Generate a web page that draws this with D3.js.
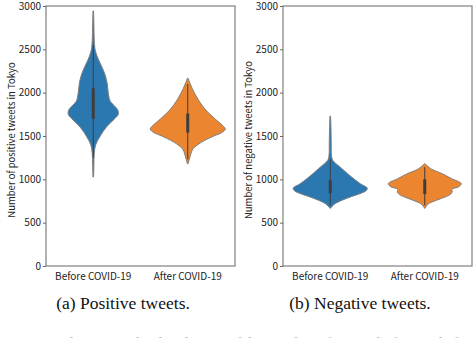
<!DOCTYPE html>
<html>
<head>
<meta charset="utf-8">
<script src="https://cdn.jsdelivr.net/npm/d3@7"></script>
<style>
  body { margin: 0; background: #fff; }
  svg { display: block; }
</style>
</head>
<body>
<svg id="chart"></svg>
<script>
// categories and tick values
const groups = ["Before COVID-19", "After COVID-19"];
const yTicks = [0, 500, 1000, 1500, 2000, 2500, 3000];
const colors = ["#2b78b1", "#ec8530"];

// density profiles: [tweets, relative density]
const posBefore = [[2943, 0.3], [2800, 0.6], [2600, 1], [2500, 1.8], [2450, 3], [2400, 4.5],
  [2300, 8.5], [2200, 12], [2100, 14], [2000, 15], [1900, 17], [1850, 21], [1800, 24.5],
  [1750, 25], [1700, 21.5], [1650, 17], [1600, 13], [1500, 7], [1400, 2.5], [1300, 1],
  [1150, 0.6], [1027, 0.3]];
const posAfter = [[2167, 0.3], [2100, 2.5], [2000, 6.5], [1900, 11.5], [1800, 18], [1700, 27],
  [1620, 35], [1580, 37.5], [1540, 34], [1500, 26], [1450, 17], [1400, 10], [1350, 5],
  [1290, 3], [1230, 1.5], [1179, 0.3]];
const negBefore = [[1730, 0.3], [1600, 0.7], [1400, 1], [1280, 1.2], [1220, 2.5], [1150, 9],
  [1100, 14], [1030, 21], [950, 30], [900, 37], [870, 36], [840, 31], [800, 21], [760, 12],
  [720, 5], [690, 2], [666, 0.3]];
const negAfter = [[1179, 0.3], [1120, 6.5], [1065, 17.5], [1010, 26.5], [950, 36.5], [915, 34],
  [885, 27], [860, 27.5], [830, 26], [800, 21], [760, 12], [720, 4], [690, 1.5], [666, 0.3]];

// inner box: [whisker low, q1, q3, whisker high]
const posBeforeBox = [1250, 1700, 2050, 2550];
const posAfterBox = [1230, 1540, 1760, 2100];
const negBeforeBox = [700, 840, 990, 1230];
const negAfterBox = [700, 830, 1000, 1140];

const panels = [
  { left: 46, label: "Number of positive tweets in Tokyo", caption: "(a) Positive tweets.",
    violins: [posBefore, posAfter], boxes: [posBeforeBox, posAfterBox] },
  { left: 283, label: "Number of negative tweets in Tokyo", caption: "(b) Negative tweets.",
    violins: [negBefore, negAfter], boxes: [negBeforeBox, negAfterBox] }
];

const W = 474, H = 338;
const svg = d3.select("#chart").attr("width", W).attr("height", H);
const plotTop = 6, plotBottom = 266, pw = 189;
const font = "'Noto Sans CJK JP', 'Noto Sans', sans-serif";

const y = d3.scaleLinear().domain([0, 3000]).range([plotBottom, plotTop]);
const w = d3.scaleLinear().domain([0, 37.5]).range([0, 37.5]);

panels.forEach(p => {
  const g = svg.append("g").attr("transform", `translate(${p.left},0)`);
  const x = d3.scaleBand().domain(groups).range([0, pw]);

  // frame
  g.append("rect")
    .attr("x", 0).attr("y", plotTop)
    .attr("width", pw).attr("height", plotBottom - plotTop)
    .attr("fill", "none").attr("stroke", "#8a8a8a").attr("stroke-width", 1.3);

  // y axis
  const ya = g.append("g").call(d3.axisLeft(y).tickValues(yTicks)
    .tickFormat(d3.format("d")).tickSize(3).tickPadding(2));
  ya.select(".domain").remove();
  ya.selectAll("line").attr("stroke", "#666");
  ya.selectAll("text").attr("font-family", font).attr("font-size", 10).attr("fill", "#222");

  // x axis
  const xa = g.append("g").attr("transform", `translate(0,${plotBottom})`)
    .call(d3.axisBottom(x).tickSize(0).tickPadding(7));
  xa.select(".domain").remove();
  xa.selectAll("text").attr("font-family", font).attr("font-size", 10).attr("fill", "#222");

  // y label
  g.append("text")
    .attr("transform", `translate(-31,${(plotTop + plotBottom) / 2 + 4}) rotate(-90)`)
    .attr("text-anchor", "middle")
    .attr("font-family", font).attr("font-size", 9.5).attr("fill", "#222")
    .text(p.label);

  // violins
  groups.forEach((grp, i) => {
    const cx = x(grp) + x.bandwidth() / 2;
    const area = d3.area()
      .y(d => y(d[0]))
      .x0(d => cx - w(d[1]))
      .x1(d => cx + w(d[1]))
      .curve(d3.curveCatmullRom);
    g.append("path")
      .attr("d", area(p.violins[i]))
      .attr("fill", colors[i])
      .attr("stroke", "#7d7d7d")
      .attr("stroke-width", 1);

    const b = p.boxes[i];
    g.append("line")
      .attr("x1", cx).attr("x2", cx)
      .attr("y1", y(b[0])).attr("y2", y(b[3]))
      .attr("stroke", "#3d3d3d").attr("stroke-width", 1);
    g.append("line")
      .attr("x1", cx).attr("x2", cx)
      .attr("y1", y(b[1])).attr("y2", y(b[2]))
      .attr("stroke", "#3d3d3d").attr("stroke-width", 3);
  });

  // caption
  svg.append("text")
    .attr("x", p.left + pw / 2 - 17.5)
    .attr("y", 309)
    .attr("text-anchor", "middle")
    .attr("font-family", "'Liberation Serif', serif")
    .attr("font-size", 17.5).attr("fill", "#111")
    .text(p.caption);
});

// clipped figure caption below
svg.append("text")
  .attr("x", 0).attr("y", 349)
  .attr("font-family", "'Liberation Serif', serif")
  .attr("font-size", 17).attr("fill", "#bbb")
  .attr("textLength", 474)
  .text("Figure 4: Changes in the distribution of the number of tweets before and after");
</script>
</body>
</html>
